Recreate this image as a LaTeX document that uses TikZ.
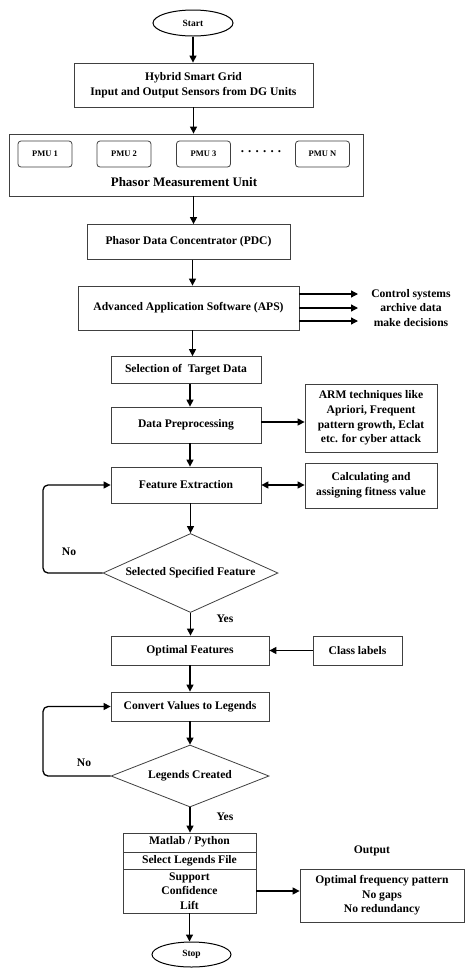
\documentclass[tikz,border=0pt]{standalone}
\usepackage{fontspec}
\setmainfont{Liberation Serif}
\usetikzlibrary{arrows.meta,shapes.geometric}
\begin{document}
\begin{tikzpicture}[x=1pt,y=-1pt,
  font=\bfseries\fontsize{11.6}{14.6}\selectfont,
  box/.style={draw=black!75,line width=0.8pt,rectangle,inner sep=0pt,align=center},
  term/.style={draw=black,line width=1pt,ellipse,inner sep=0pt,font=\bfseries\fontsize{9.5}{11}\selectfont},
  pmu/.style={draw=black!75,line width=0.8pt,rounded corners=3pt,minimum width=54pt,minimum height=26pt,inner sep=0pt,font=\bfseries\fontsize{8.5}{10}\selectfont},
  dec/.style={draw=black!75,line width=0.8pt,diamond,inner sep=0pt},
  arr/.style={-{Triangle[length=7pt,width=7pt]},line width=1.3pt},
  darr/.style={{Triangle[length=7pt,width=7pt]}-{Triangle[length=7pt,width=7pt]},line width=1.3pt},
  lbl/.style={inner sep=0pt,align=center}]
\useasboundingbox (0,0) rectangle (474,978);
\fill[white] (0,0) rectangle (474,978);

\node[term,minimum width=80pt,minimum height=26pt] (start) at (193,23) {Start};
\node[box,minimum width=239pt,minimum height=44pt] (hsg) at (193.5,85) {Hybrid Smart Grid\\Input and Output Sensors from DG Units};
\node[box,minimum width=354pt,minimum height=62pt] (pmuu) at (186,165) {};
\node[pmu] (p1) at (45,154) {PMU 1};
\node[pmu] (p2) at (124,154) {PMU 2};
\node[pmu] (p3) at (203.5,154) {PMU 3};
\node[pmu] (pn) at (322.5,154) {PMU N};
\node[lbl,font=\bfseries\fontsize{13}{14}\selectfont] (dots) at (261,152) {.\hspace{4.2pt}.\hspace{4.2pt}.\hspace{4.2pt}.\hspace{4.2pt}.\hspace{4.2pt}.};
\node[lbl,font=\bfseries\fontsize{13}{14}\selectfont] (pmul) at (184,182) {Phasor Measurement Unit};
\node[box,minimum width=203pt,minimum height=35pt] (pdc) at (188.5,242) {Phasor Data Concentrator (PDC)};
\node[box,minimum width=221pt,minimum height=44pt] (aps) at (188.5,308) {Advanced Application Software (APS)};
\node[lbl] (ctl) at (411,308) {Control systems\\archive data\\make decisions};
\coordinate (c1) at (358,294);
\coordinate (c2) at (358,308);
\coordinate (c3) at (358,321);
\node[box,minimum width=150pt,minimum height=27pt] (sel) at (186,370) {Selection of\ \ Target Data};
\node[box,minimum width=150pt,minimum height=36pt] (dp) at (186,425) {Data Preprocessing};
\node[box,minimum width=132pt,minimum height=68pt] (arm) at (371,418) {ARM techniques like\\Apriori, Frequent\\pattern growth, Eclat\\etc. for cyber attack};
\node[box,minimum width=150pt,minimum height=36pt] (fe) at (186,485) {Feature Extraction};
\node[box,minimum width=132pt,minimum height=45pt] (calc) at (371,485.5) {Calculating and\\assigning fitness value};
\node[dec,minimum width=175pt,minimum height=79pt,aspect=2.2] (d1) at (190.5,573) {Selected Specified Feature};
\node[lbl] (no1) at (69,552) {No};
\node[lbl] (yes1) at (225,619) {Yes};
\node[box,minimum width=158pt,minimum height=29pt] (opt) at (190,650.5) {Optimal Features};
\node[box,minimum width=89pt,minimum height=29pt] (cls) at (357.5,650.5) {Class labels};
\node[box,minimum width=158pt,minimum height=29pt] (cv) at (190,706.5) {Convert Values to Legends};
\node[dec,minimum width=158pt,minimum height=62pt,aspect=2.55] (d2) at (190,776) {Legends Created};
\node[lbl] (no2) at (84,763) {No};
\node[lbl] (yes2) at (225,817) {Yes};
\node[box,minimum width=133pt,minimum height=80pt] (ml) at (189.5,873) {};
\node[lbl] (mlt) at (189.5,842) {Matlab / Python};
\node[lbl] (slf) at (189.5,860.5) {Select Legends File};
\node[lbl] (scl) at (189.5,891) {Support\\Confidence\\Lift};
\draw[black!75,line width=0.8pt] (123,852) -- (256,852);
\draw[black!75,line width=0.8pt] (123,869) -- (256,869);
\node[lbl] (outl) at (372,851) {Output};
\node[box,minimum width=164pt,minimum height=53pt] (out) at (382,895.5) {Optimal frequency pattern\\No gaps\\No redundancy};
\node[term,minimum width=79pt,minimum height=25pt] (stop) at (191.5,954.5) {Stop};

\draw[arr] (start.south) -- (start.south |- hsg.north);
\draw[arr] (hsg.south) -- (hsg.south |- pmuu.north);
\draw[arr] (hsg.south |- pmuu.south) -- (hsg.south |- pdc.north);
\draw[arr] ([xshift=4pt]pdc.south) -- ([xshift=4pt]pdc.south |- aps.north);
\draw[arr] (aps.east |- c1) -- (c1);
\draw[arr] (aps.east |- c2) -- (c2);
\draw[arr] (aps.east |- c3) -- (c3);
\draw[arr] ([xshift=4pt]aps.south) -- ([xshift=4pt]aps.south |- sel.north);
\draw[arr] ([xshift=4pt]sel.south) -- ([xshift=4pt]sel.south |- dp.north);
\draw[arr] ([yshift=3pt]dp.east) -- ([yshift=3pt]dp.east -| arm.west);
\draw[arr] ([xshift=4pt]dp.south) -- ([xshift=4pt]dp.south |- fe.north);
\draw[darr] (fe.east) -- (fe.east -| calc.west);
\draw[arr] (d1.north |- fe.south) -- (d1.north);
\draw[arr,rounded corners=5pt] (d1.west) -- (43,573) -- (43,485) -- (fe.west);
\draw[arr] (d1.south) -- (d1.south |- opt.north);
\draw[arr] (cls.west) -- (opt.east);
\draw[arr] (opt.south) -- (opt.south |- cv.north);
\draw[arr] (cv.south) -- (d2.north);
\draw[arr,rounded corners=5pt] (d2.west) -- (43,776) -- (43,706.5) -- (cv.west);
\draw[arr] (d2.south) -- (d2.south |- ml.north);
\draw[arr] (ml.east |- scl) -- (scl -| out.west);
\draw[arr] (ml.south) -- (ml.south |- stop.north);
\end{tikzpicture}
\end{document}
